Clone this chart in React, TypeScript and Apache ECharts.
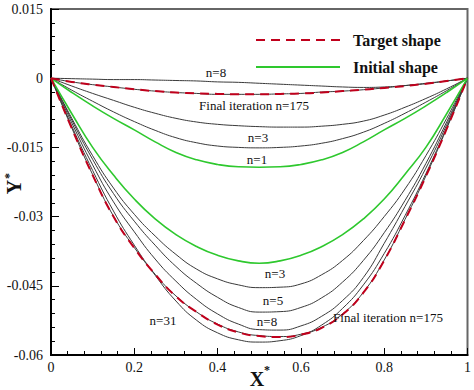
import React, { useEffect, useRef } from "react";
import * as echarts from "echarts";

const xs = [0, 0.05, 0.1, 0.15, 0.2, 0.25, 0.3, 0.35, 0.4, 0.45, 0.5, 0.55, 0.6, 0.65, 0.7, 0.75, 0.8, 0.85, 0.9, 0.95, 1];

// shallow case
const shallowN8 = [0, -0.0001, -0.0002, -0.0003, -0.0003, -0.0004, -0.0005, -0.0006, -0.0008, -0.0009, -0.0011, -0.0013, -0.0015, -0.0017, -0.0019, -0.002, -0.0019, -0.0016, -0.0011, -0.0006, 0];
const shallowFinal = [0, -0.0008, -0.0014, -0.0019, -0.0024, -0.0028, -0.0031, -0.0033, -0.0035, -0.0035, -0.0035, -0.0034, -0.0033, -0.003, -0.0028, -0.0025, -0.0021, -0.0016, -0.0012, -0.0006, 0];
const shallowTarget = [0, -0.0008, -0.0014, -0.0019, -0.0024, -0.0028, -0.0031, -0.0033, -0.0034, -0.0035, -0.0035, -0.0034, -0.0033, -0.0031, -0.0028, -0.0025, -0.0021, -0.0017, -0.0012, -0.0006, 0];
const shallowUpper = [0, -0.0017, -0.0033, -0.0048, -0.0063, -0.0076, -0.0087, -0.0095, -0.01, -0.0103, -0.0105, -0.0106, -0.0106, -0.0104, -0.01, -0.0093, -0.008, -0.0063, -0.0044, -0.0023, 0];
const shallowN3 = [0, -0.0026, -0.005, -0.0073, -0.0094, -0.0113, -0.0129, -0.014, -0.0147, -0.015, -0.0151, -0.015, -0.0147, -0.0141, -0.0131, -0.0117, -0.0098, -0.0076, -0.0052, -0.0027, 0];
const shallowInitial = [0, -0.0031, -0.006, -0.0087, -0.0112, -0.0138, -0.0161, -0.0177, -0.0187, -0.0192, -0.0193, -0.0192, -0.0187, -0.0177, -0.0161, -0.0138, -0.0112, -0.0087, -0.006, -0.0031, 0];

// deep case
const deepInitial = [0, -0.0077, -0.015, -0.021, -0.0262, -0.0305, -0.0339, -0.0365, -0.0384, -0.0396, -0.0401, -0.0396, -0.0384, -0.0365, -0.0339, -0.0305, -0.0262, -0.0208, -0.015, -0.0077, 0];
const deepN3 = [0, -0.0087, -0.0168, -0.0238, -0.0295, -0.0342, -0.0382, -0.0414, -0.0435, -0.0448, -0.0454, -0.0453, -0.0446, -0.0426, -0.0395, -0.0352, -0.03, -0.024, -0.0168, -0.0087, 0];
const deepN5 = [0, -0.0091, -0.0176, -0.025, -0.031, -0.0362, -0.0408, -0.0445, -0.0475, -0.0497, -0.0507, -0.0506, -0.0497, -0.0476, -0.0442, -0.0395, -0.0335, -0.0265, -0.0185, -0.0095, 0];
const deepN8 = [0, -0.0097, -0.0188, -0.0268, -0.0333, -0.0392, -0.044, -0.048, -0.0511, -0.0533, -0.0545, -0.0546, -0.0537, -0.0516, -0.0482, -0.0432, -0.0358, -0.0278, -0.0195, -0.0101, 0];
const deepN31 = [0, -0.0104, -0.02, -0.0288, -0.0362, -0.0427, -0.0483, -0.0525, -0.0552, -0.0567, -0.0572, -0.0569, -0.0558, -0.0535, -0.0499, -0.0448, -0.038, -0.0298, -0.0207, -0.0107, 0];
const deepFinal = [0, -0.0108, -0.0209, -0.0299, -0.0367, -0.0425, -0.0472, -0.0507, -0.0533, -0.055, -0.0558, -0.056, -0.0555, -0.054, -0.0511, -0.0464, -0.0394, -0.0306, -0.0212, -0.0109, 0];
const deepTarget = [0, -0.0109, -0.021, -0.03, -0.0368, -0.0425, -0.0473, -0.0507, -0.0534, -0.0551, -0.0559, -0.0561, -0.0556, -0.0541, -0.0512, -0.0465, -0.0395, -0.0307, -0.0213, -0.011, 0];

const xTickLabels = ["0", "0.2", "0.4", "0.6", "0.8", "1"];
const yTickLabels = ["-0.06", "-0.045", "-0.03", "-0.015", "0", "0.015"];
const legendNames = ["Target shape", "Initial shape"];

const pairs = (ys: number[]) => xs.map((x, i) => [x, ys[i]]);

const SERIF = "'Liberation Serif', 'Times New Roman', Times, serif";
const BLACK = "#3a3a3a";
const GREEN = "#2ec82e";
const RED = "#c0001c";

export default function App() {
  const ref = useRef<HTMLDivElement>(null);
  useEffect(() => {
    document.body.style.margin = "0";
    const chart = echarts.init(ref.current!, null, { renderer: "svg" });
    const blackLine = (name: string, ys: number[]) => ({
      name,
      type: "line",
      data: pairs(ys),
      smooth: 0.5,
      symbol: "none",
      lineStyle: { color: BLACK, width: 1 },
      itemStyle: { color: BLACK },
      z: 2,
    });
    const greenLine = (ys: number[]) => ({
      name: legendNames[1],
      type: "line",
      data: pairs(ys),
      smooth: 0.5,
      symbol: "none",
      lineStyle: { color: GREEN, width: 1.6 },
      itemStyle: { color: GREEN },
      z: 3,
    });
    const redLine = (ys: number[]) => ({
      name: legendNames[0],
      type: "line",
      data: pairs(ys),
      smooth: 0.5,
      symbol: "none",
      lineStyle: { color: RED, width: 2, type: [9, 6] },
      itemStyle: { color: RED },
      z: 4,
    });
    const text = (t: string, x: number, y: number, size = 13, bold = false, rotation = 0) => ({
      type: "text",
      x,
      y,
      rotation,
      z: 10,
      style: {
        text: t,
        fill: "#111",
        fontFamily: SERIF,
        fontSize: size,
        fontWeight: bold ? "bold" : "normal",
        align: "center",
        verticalAlign: "middle",
      },
    });
    chart.setOption({
      animation: false,
      grid: {
        left: 51,
        right: 5,
        top: 9,
        bottom: 35,
        show: true,
        borderColor: "#666",
        borderWidth: 2,
        backgroundColor: "transparent",
      },
      legend: {
        data: legendNames,
        orient: "vertical",
        left: 250,
        top: 27,
        itemWidth: 84,
        itemHeight: 14,
        itemGap: 11,
        selectedMode: false,
        itemStyle: { opacity: 0 },
        textStyle: {
          fontFamily: SERIF,
          fontWeight: "bold",
          fontSize: 16,
          color: "#111",
          padding: [0, 0, 0, 8],
        },
      },
      xAxis: {
        type: "value",
        min: 0,
        max: 1,
        interval: 0.2,
        axisLine: { show: true, onZero: false, lineStyle: { color: "#000", width: 2 } },
        axisTick: { show: true, inside: true, length: 7, lineStyle: { color: "#000", width: 1 } },
        minorTick: { show: true, splitNumber: 5, length: 4, lineStyle: { color: "#000", width: 1 } },
        splitLine: { show: false },
        axisLabel: {
          fontFamily: SERIF,
          fontSize: 14,
          color: "#111",
          margin: 5,
          formatter: (v: number) => xTickLabels[Math.round(v / 0.2)] ?? "",
        },
      },
      yAxis: {
        type: "value",
        min: -0.06,
        max: 0.015,
        interval: 0.015,
        axisLine: { show: true, onZero: false, lineStyle: { color: "#000", width: 2 } },
        axisTick: { show: true, inside: true, length: 8, lineStyle: { color: "#000", width: 1 } },
        minorTick: { show: true, splitNumber: 5, length: 4, lineStyle: { color: "#000", width: 1 } },
        splitLine: { show: false },
        axisLabel: {
          fontFamily: SERIF,
          fontSize: 14,
          color: "#111",
          margin: 8,
          formatter: (v: number) => yTickLabels[Math.round((v + 0.06) / 0.015)] ?? "",
        },
      },
      series: [
        blackLine("shallow n=8", shallowN8),
        blackLine("shallow final n=175", shallowFinal),
        blackLine("shallow iteration", shallowUpper),
        blackLine("shallow n=3", shallowN3),
        greenLine(shallowInitial),
        blackLine("deep n=3", deepN3),
        blackLine("deep n=5", deepN5),
        blackLine("deep n=8", deepN8),
        blackLine("deep n=31", deepN31),
        blackLine("deep final n=175", deepFinal),
        greenLine(deepInitial),
        redLine(shallowTarget),
        redLine(deepTarget),
      ],
      graphic: [
        text("n=8", 216, 72),
        text("Final iteration n=175", 254, 105),
        text("n=3", 258, 137),
        text("n=1", 257, 159),
        text("n=3", 275, 273),
        text("n=5", 273, 300),
        text("n=8", 267, 321),
        text("n=31", 163, 320),
        text("Final iteration n=175", 388, 317),
        text("X", 257, 379, 20, true),
        text("*", 267, 370, 12, true),
        text("Y", 14, 187, 20, true, Math.PI / 2),
        text("*", 9, 176, 12, true, Math.PI / 2),
      ],
    });
    return () => chart.dispose();
  }, []);
  return <div ref={ref} style={{ width: 474, height: 390 }} />;
}
